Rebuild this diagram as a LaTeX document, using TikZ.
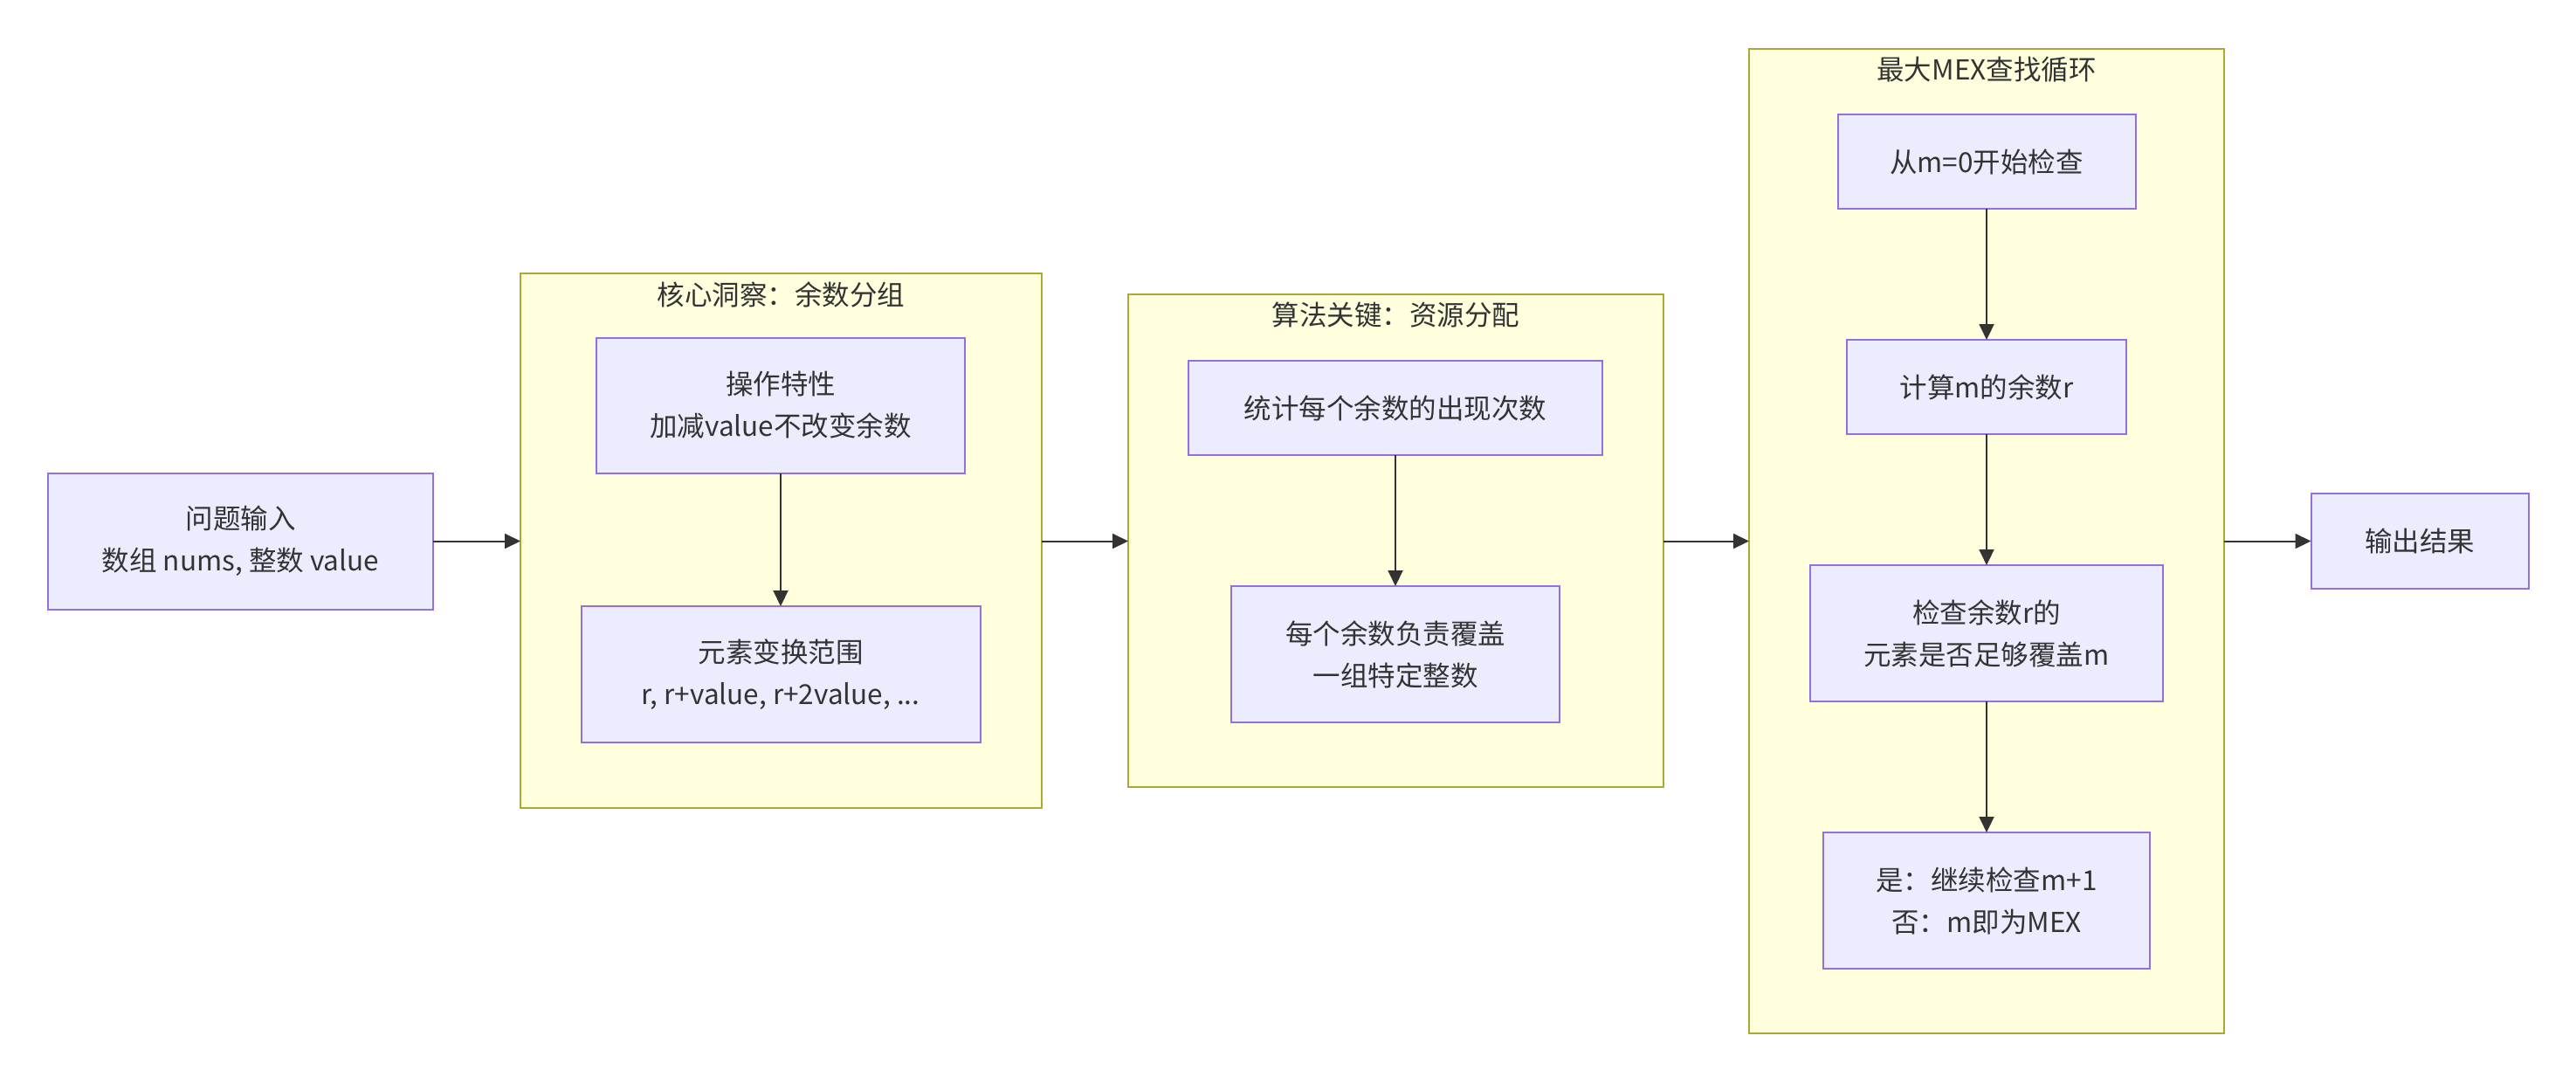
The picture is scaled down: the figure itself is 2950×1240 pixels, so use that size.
\documentclass[tikz,border=0pt]{standalone}
\usepackage{fontspec}
\setmainfont{Noto Sans CJK SC}
\usetikzlibrary{arrows.meta}
\definecolor{nodefill}{HTML}{ECECFF}
\definecolor{nodeline}{HTML}{9370DB}
\definecolor{clfill}{HTML}{FFFFDE}
\definecolor{clline}{HTML}{AAAA33}
\definecolor{txt}{HTML}{333333}
\begin{document}
\begin{tikzpicture}[x=1pt,y=-1pt,
  every node/.style={inner sep=0pt, outer sep=0pt, text=txt,
    font=\fontsize{31.5pt}{48pt}\selectfont, align=center},
  procbox/.style={draw=nodeline, fill=nodefill, line width=2pt, rectangle},
  clusterbox/.style={draw=clline, fill=clfill, line width=2pt, rectangle},
  arr/.style={draw=txt, line width=2pt, -{Triangle[length=18pt,width=17pt]}}]
\useasboundingbox (0,0) rectangle (2950,1240);
\fill[white] (0,0) rectangle (2950,1240);
% clusters
\node[clusterbox, minimum width=597pt, minimum height=612pt] (c1) at (894.5,619) {};
\node[clusterbox, minimum width=613pt, minimum height=564pt] (c2) at (1598.5,619) {};
\node[clusterbox, minimum width=544pt, minimum height=1127pt] (c3) at (2275,619.5) {};
\node (t1) at (894.5,337) {核心洞察：余数分组};
\node (t2) at (1598.5,361) {算法关键：资源分配};
\node (t3) at (2275,80) {最大MEX查找循环};
% nodes
\node[procbox, minimum width=441pt, minimum height=156pt] (in) at (275.5,619.5) {问题输入\\数组 nums, 整数 value};
\node[procbox, minimum width=422pt, minimum height=155pt] (a) at (894,464) {操作特性\\加减value不改变余数};
\node[procbox, minimum width=457pt, minimum height=156pt] (b) at (894,772) {元素变换范围\\r, r+value, r+2value, ...};
\node[procbox, minimum width=474pt, minimum height=108pt] (c) at (1598,467) {统计每个余数的出现次数};
\node[procbox, minimum width=376pt, minimum height=156pt] (d) at (1598,749) {每个余数负责覆盖\\一组特定整数};
\node[procbox, minimum width=341pt, minimum height=108pt] (e) at (2275,185) {从m=0开始检查};
\node[procbox, minimum width=320pt, minimum height=108pt] (f) at (2275,443) {计算m的余数r};
\node[procbox, minimum width=404pt, minimum height=156pt] (g) at (2275,725) {检查余数r的\\元素是否足够覆盖m};
\node[procbox, minimum width=374pt, minimum height=156pt] (h) at (2275,1031) {是：继续检查m+1\\否：m即为MEX};
\node[procbox, minimum width=249pt, minimum height=109pt] (out) at (2771,619.5) {输出结果};
% connectors
\draw[arr] (in.east) -- (in -| c1.west);
\draw[arr] (c1.east |- in) -- (c2.west |- in);
\draw[arr] (c2.east |- in) -- (c3.west |- in);
\draw[arr] (c3.east |- in) -- (out.west);
\draw[arr] (a) -- (b);
\draw[arr] (c) -- (d);
\draw[arr] (e) -- (f);
\draw[arr] (f) -- (g);
\draw[arr] (g) -- (h);
\end{tikzpicture}
\end{document}
